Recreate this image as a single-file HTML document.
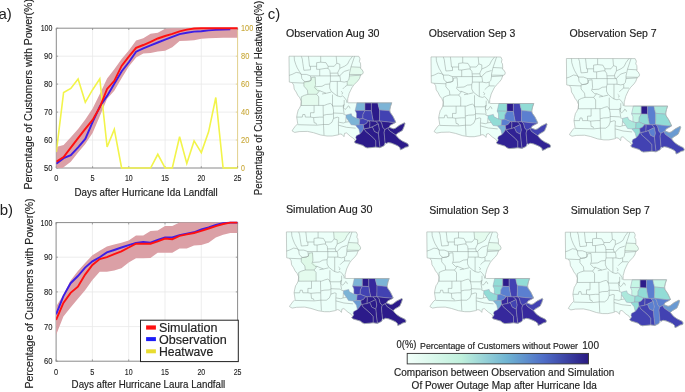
<!DOCTYPE html>
<html><head><meta charset="utf-8"><style>
html,body{margin:0;padding:0;background:#fff;overflow:hidden;}
svg{display:block;}
text{font-family:'Liberation Sans', 'DejaVu Sans', sans-serif;}
</style></head><body>
<svg width="685" height="392" viewBox="0 0 685 392">
<rect width="685" height="392" fill="#fff"/>
<defs>
<clipPath id="ca"><rect x="56.3" y="25.7" width="181.3" height="142.3"/></clipPath>
<clipPath id="ca2"><rect x="56.3" y="25.7" width="182.8" height="144.3"/></clipPath>
<clipPath id="cb"><rect x="56.1" y="220.1" width="181.5" height="141.1"/></clipPath>
</defs>
<line x1="92.6" y1="28.2" x2="92.6" y2="168.0" stroke="#e8e8e8" stroke-width="0.8"/>
<line x1="128.8" y1="28.2" x2="128.8" y2="168.0" stroke="#e8e8e8" stroke-width="0.8"/>
<line x1="165.1" y1="28.2" x2="165.1" y2="168.0" stroke="#e8e8e8" stroke-width="0.8"/>
<line x1="201.3" y1="28.2" x2="201.3" y2="168.0" stroke="#e8e8e8" stroke-width="0.8"/>
<line x1="56.3" y1="140.0" x2="237.6" y2="140.0" stroke="#e8e8e8" stroke-width="0.8"/>
<line x1="56.3" y1="112.1" x2="237.6" y2="112.1" stroke="#e8e8e8" stroke-width="0.8"/>
<line x1="56.3" y1="84.1" x2="237.6" y2="84.1" stroke="#e8e8e8" stroke-width="0.8"/>
<line x1="56.3" y1="56.2" x2="237.6" y2="56.2" stroke="#e8e8e8" stroke-width="0.8"/>
<path d="M56.3,168.0 V28.2 H237.6" fill="none" stroke="#8a8a8a" stroke-width="1"/>
<line x1="56.3" y1="168.0" x2="237.6" y2="168.0" stroke="#8a8a8a" stroke-width="1"/>
<line x1="237.6" y1="28.2" x2="237.6" y2="168.0" stroke="#e2d08c" stroke-width="1"/>
<line x1="56.3" y1="168.0" x2="58.099999999999994" y2="168.0" stroke="#8a8a8a" stroke-width="0.8"/>
<text x="52.5" y="171.1" font-size="9.6" fill="#222" text-anchor="end" textLength="8.5" lengthAdjust="spacingAndGlyphs" stroke="#222" stroke-width="0.12">50</text>
<line x1="56.3" y1="140.0" x2="58.099999999999994" y2="140.0" stroke="#8a8a8a" stroke-width="0.8"/>
<text x="52.5" y="143.1" font-size="9.6" fill="#222" text-anchor="end" textLength="8.5" lengthAdjust="spacingAndGlyphs" stroke="#222" stroke-width="0.12">60</text>
<line x1="56.3" y1="112.1" x2="58.099999999999994" y2="112.1" stroke="#8a8a8a" stroke-width="0.8"/>
<text x="52.5" y="115.2" font-size="9.6" fill="#222" text-anchor="end" textLength="8.5" lengthAdjust="spacingAndGlyphs" stroke="#222" stroke-width="0.12">70</text>
<line x1="56.3" y1="84.1" x2="58.099999999999994" y2="84.1" stroke="#8a8a8a" stroke-width="0.8"/>
<text x="52.5" y="87.2" font-size="9.6" fill="#222" text-anchor="end" textLength="8.5" lengthAdjust="spacingAndGlyphs" stroke="#222" stroke-width="0.12">80</text>
<line x1="56.3" y1="56.2" x2="58.099999999999994" y2="56.2" stroke="#8a8a8a" stroke-width="0.8"/>
<text x="52.5" y="59.3" font-size="9.6" fill="#222" text-anchor="end" textLength="8.5" lengthAdjust="spacingAndGlyphs" stroke="#222" stroke-width="0.12">90</text>
<line x1="56.3" y1="28.2" x2="58.099999999999994" y2="28.2" stroke="#8a8a8a" stroke-width="0.8"/>
<text x="52.5" y="31.3" font-size="9.6" fill="#222" text-anchor="end" textLength="11.8" lengthAdjust="spacingAndGlyphs" stroke="#222" stroke-width="0.12">100</text>
<line x1="235.79999999999998" y1="168.0" x2="237.6" y2="168.0" stroke="#e2d08c" stroke-width="0.8"/>
<text x="241.0" y="171.1" font-size="9.6" fill="#c9a93a" text-anchor="start" textLength="3.9" lengthAdjust="spacingAndGlyphs" stroke="#c9a93a" stroke-width="0.12">0</text>
<line x1="235.79999999999998" y1="140.0" x2="237.6" y2="140.0" stroke="#e2d08c" stroke-width="0.8"/>
<text x="241.0" y="143.1" font-size="9.6" fill="#c9a93a" text-anchor="start" textLength="8.3" lengthAdjust="spacingAndGlyphs" stroke="#c9a93a" stroke-width="0.12">20</text>
<line x1="235.79999999999998" y1="112.1" x2="237.6" y2="112.1" stroke="#e2d08c" stroke-width="0.8"/>
<text x="241.0" y="115.2" font-size="9.6" fill="#c9a93a" text-anchor="start" textLength="8.3" lengthAdjust="spacingAndGlyphs" stroke="#c9a93a" stroke-width="0.12">40</text>
<line x1="235.79999999999998" y1="84.1" x2="237.6" y2="84.1" stroke="#e2d08c" stroke-width="0.8"/>
<text x="241.0" y="87.2" font-size="9.6" fill="#c9a93a" text-anchor="start" textLength="8.3" lengthAdjust="spacingAndGlyphs" stroke="#c9a93a" stroke-width="0.12">60</text>
<line x1="235.79999999999998" y1="56.2" x2="237.6" y2="56.2" stroke="#e2d08c" stroke-width="0.8"/>
<text x="241.0" y="59.3" font-size="9.6" fill="#c9a93a" text-anchor="start" textLength="8.3" lengthAdjust="spacingAndGlyphs" stroke="#c9a93a" stroke-width="0.12">80</text>
<line x1="235.79999999999998" y1="28.2" x2="237.6" y2="28.2" stroke="#e2d08c" stroke-width="0.8"/>
<text x="241.0" y="31.3" font-size="9.6" fill="#c9a93a" text-anchor="start" textLength="12.2" lengthAdjust="spacingAndGlyphs" stroke="#c9a93a" stroke-width="0.12">100</text>
<line x1="56.3" y1="168.0" x2="56.3" y2="166.2" stroke="#8a8a8a" stroke-width="0.8"/>
<line x1="56.3" y1="28.2" x2="56.3" y2="30.0" stroke="#8a8a8a" stroke-width="0.8"/>
<text x="56.3" y="181.2" font-size="9.3" fill="#222" text-anchor="middle" textLength="4.1" lengthAdjust="spacingAndGlyphs" stroke="#222" stroke-width="0.12">0</text>
<line x1="92.6" y1="168.0" x2="92.6" y2="166.2" stroke="#8a8a8a" stroke-width="0.8"/>
<line x1="92.6" y1="28.2" x2="92.6" y2="30.0" stroke="#8a8a8a" stroke-width="0.8"/>
<text x="92.6" y="181.2" font-size="9.3" fill="#222" text-anchor="middle" textLength="4.1" lengthAdjust="spacingAndGlyphs" stroke="#222" stroke-width="0.12">5</text>
<line x1="128.8" y1="168.0" x2="128.8" y2="166.2" stroke="#8a8a8a" stroke-width="0.8"/>
<line x1="128.8" y1="28.2" x2="128.8" y2="30.0" stroke="#8a8a8a" stroke-width="0.8"/>
<text x="128.8" y="181.2" font-size="9.3" fill="#222" text-anchor="middle" textLength="7.8" lengthAdjust="spacingAndGlyphs" stroke="#222" stroke-width="0.12">10</text>
<line x1="165.1" y1="168.0" x2="165.1" y2="166.2" stroke="#8a8a8a" stroke-width="0.8"/>
<line x1="165.1" y1="28.2" x2="165.1" y2="30.0" stroke="#8a8a8a" stroke-width="0.8"/>
<text x="165.1" y="181.2" font-size="9.3" fill="#222" text-anchor="middle" textLength="7.8" lengthAdjust="spacingAndGlyphs" stroke="#222" stroke-width="0.12">15</text>
<line x1="201.3" y1="168.0" x2="201.3" y2="166.2" stroke="#8a8a8a" stroke-width="0.8"/>
<line x1="201.3" y1="28.2" x2="201.3" y2="30.0" stroke="#8a8a8a" stroke-width="0.8"/>
<text x="201.3" y="181.2" font-size="9.3" fill="#222" text-anchor="middle" textLength="7.8" lengthAdjust="spacingAndGlyphs" stroke="#222" stroke-width="0.12">20</text>
<line x1="237.6" y1="168.0" x2="237.6" y2="166.2" stroke="#8a8a8a" stroke-width="0.8"/>
<line x1="237.6" y1="28.2" x2="237.6" y2="30.0" stroke="#8a8a8a" stroke-width="0.8"/>
<text x="237.6" y="181.2" font-size="9.3" fill="#222" text-anchor="middle" textLength="7.8" lengthAdjust="spacingAndGlyphs" stroke="#222" stroke-width="0.12">25</text>
<g clip-path="url(#ca)">
<polygon points="56.3,147.0 63.6,145.1 70.8,137.2 78.1,128.9 85.3,119.6 92.6,108.4 99.8,93.9 107.1,78.5 114.3,69.3 121.6,59.0 128.8,50.6 136.1,40.5 143.3,38.3 150.6,33.8 157.8,32.7 165.1,28.8 172.3,28.2 179.6,28.2 186.8,28.2 194.1,28.2 201.3,28.2 208.6,28.2 215.8,28.2 223.1,28.2 230.3,28.2 237.6,28.2 237.6,37.7 230.3,37.7 223.1,37.7 215.8,38.0 208.6,38.3 201.3,38.8 194.1,40.2 186.8,40.8 179.6,41.1 172.3,47.2 165.1,50.8 157.8,51.4 150.6,53.1 143.3,53.6 136.1,57.6 128.8,66.5 121.6,78.2 114.3,90.8 107.1,98.7 99.8,116.3 92.6,133.1 85.3,144.0 78.1,152.6 70.8,161.8 63.6,167.2 56.3,173.6" fill="#dba0a6"/>
</g>
<g clip-path="url(#ca2)">
<polyline points="56.3,152.1 63.6,92.5 70.8,88.5 78.1,78.9 85.3,102.3 92.6,89.7 99.8,78.8 107.1,147.0 114.3,129.4 121.6,168.0 128.8,168.0 136.1,168.0 143.3,168.0 150.6,168.0 157.8,154.3 165.1,168.0 172.3,168.0 179.6,136.8 186.8,163.4 194.1,140.9 201.3,152.6 208.6,131.8 215.8,97.5 223.1,168.0 230.3,168.0 237.6,168.0" fill="none" stroke="#f2f44a" stroke-width="1.6" stroke-linejoin="miter"/>
<polyline points="56.3,163.8 63.6,158.2 70.8,155.1 78.1,147.3 85.3,138.9 92.6,122.1 99.8,106.5 107.1,95.9 114.3,83.8 121.6,71.5 128.8,62.3 136.1,51.7 143.3,48.3 150.6,45.3 157.8,42.5 165.1,39.7 172.3,36.9 179.6,34.1 186.8,32.7 194.1,31.6 201.3,31.3 208.6,30.4 215.8,29.9 223.1,29.6 230.3,29.3" fill="none" stroke="#3c1ee6" stroke-width="1.9"/>
<polyline points="56.3,161.6 63.6,157.1 70.8,147.6 78.1,138.1 85.3,128.9 92.6,119.9 99.8,107.3 107.1,88.9 114.3,80.8 121.6,65.9 128.8,56.7 136.1,47.8 143.3,45.0 150.6,41.9 157.8,38.5 165.1,36.0 172.3,33.8 179.6,31.3 186.8,29.6 194.1,28.5 201.3,28.2 208.6,28.2 215.8,28.2 223.1,28.2 230.3,28.2 237.6,28.2" fill="none" stroke="#ff1010" stroke-width="1.9"/>
</g>
<line x1="92.4" y1="222.6" x2="92.4" y2="361.2" stroke="#e8e8e8" stroke-width="0.8"/>
<line x1="128.7" y1="222.6" x2="128.7" y2="361.2" stroke="#e8e8e8" stroke-width="0.8"/>
<line x1="165.0" y1="222.6" x2="165.0" y2="361.2" stroke="#e8e8e8" stroke-width="0.8"/>
<line x1="201.3" y1="222.6" x2="201.3" y2="361.2" stroke="#e8e8e8" stroke-width="0.8"/>
<line x1="56.1" y1="326.6" x2="237.6" y2="326.6" stroke="#e8e8e8" stroke-width="0.8"/>
<line x1="56.1" y1="291.9" x2="237.6" y2="291.9" stroke="#e8e8e8" stroke-width="0.8"/>
<line x1="56.1" y1="257.2" x2="237.6" y2="257.2" stroke="#e8e8e8" stroke-width="0.8"/>
<rect x="56.1" y="222.6" width="181.5" height="138.6" fill="none" stroke="#8a8a8a" stroke-width="1"/>
<line x1="56.1" y1="361.2" x2="57.9" y2="361.2" stroke="#8a8a8a" stroke-width="0.8"/>
<line x1="235.79999999999998" y1="361.2" x2="237.6" y2="361.2" stroke="#8a8a8a" stroke-width="0.8"/>
<text x="52.4" y="364.3" font-size="9.6" fill="#222" text-anchor="end" textLength="8.5" lengthAdjust="spacingAndGlyphs" stroke="#222" stroke-width="0.12">60</text>
<line x1="56.1" y1="326.6" x2="57.9" y2="326.6" stroke="#8a8a8a" stroke-width="0.8"/>
<line x1="235.79999999999998" y1="326.6" x2="237.6" y2="326.6" stroke="#8a8a8a" stroke-width="0.8"/>
<text x="52.4" y="329.7" font-size="9.6" fill="#222" text-anchor="end" textLength="8.5" lengthAdjust="spacingAndGlyphs" stroke="#222" stroke-width="0.12">70</text>
<line x1="56.1" y1="291.9" x2="57.9" y2="291.9" stroke="#8a8a8a" stroke-width="0.8"/>
<line x1="235.79999999999998" y1="291.9" x2="237.6" y2="291.9" stroke="#8a8a8a" stroke-width="0.8"/>
<text x="52.4" y="295.0" font-size="9.6" fill="#222" text-anchor="end" textLength="8.5" lengthAdjust="spacingAndGlyphs" stroke="#222" stroke-width="0.12">80</text>
<line x1="56.1" y1="257.2" x2="57.9" y2="257.2" stroke="#8a8a8a" stroke-width="0.8"/>
<line x1="235.79999999999998" y1="257.2" x2="237.6" y2="257.2" stroke="#8a8a8a" stroke-width="0.8"/>
<text x="52.4" y="260.4" font-size="9.6" fill="#222" text-anchor="end" textLength="8.5" lengthAdjust="spacingAndGlyphs" stroke="#222" stroke-width="0.12">90</text>
<line x1="56.1" y1="222.6" x2="57.9" y2="222.6" stroke="#8a8a8a" stroke-width="0.8"/>
<line x1="235.79999999999998" y1="222.6" x2="237.6" y2="222.6" stroke="#8a8a8a" stroke-width="0.8"/>
<text x="52.4" y="225.7" font-size="9.6" fill="#222" text-anchor="end" textLength="11.8" lengthAdjust="spacingAndGlyphs" stroke="#222" stroke-width="0.12">100</text>
<line x1="56.1" y1="361.2" x2="56.1" y2="359.4" stroke="#8a8a8a" stroke-width="0.8"/>
<line x1="56.1" y1="222.6" x2="56.1" y2="224.4" stroke="#8a8a8a" stroke-width="0.8"/>
<text x="56.1" y="375.3" font-size="9.3" fill="#222" text-anchor="middle" textLength="4.1" lengthAdjust="spacingAndGlyphs" stroke="#222" stroke-width="0.12">0</text>
<line x1="92.4" y1="361.2" x2="92.4" y2="359.4" stroke="#8a8a8a" stroke-width="0.8"/>
<line x1="92.4" y1="222.6" x2="92.4" y2="224.4" stroke="#8a8a8a" stroke-width="0.8"/>
<text x="92.4" y="375.3" font-size="9.3" fill="#222" text-anchor="middle" textLength="4.1" lengthAdjust="spacingAndGlyphs" stroke="#222" stroke-width="0.12">5</text>
<line x1="128.7" y1="361.2" x2="128.7" y2="359.4" stroke="#8a8a8a" stroke-width="0.8"/>
<line x1="128.7" y1="222.6" x2="128.7" y2="224.4" stroke="#8a8a8a" stroke-width="0.8"/>
<text x="128.7" y="375.3" font-size="9.3" fill="#222" text-anchor="middle" textLength="7.8" lengthAdjust="spacingAndGlyphs" stroke="#222" stroke-width="0.12">10</text>
<line x1="165.0" y1="361.2" x2="165.0" y2="359.4" stroke="#8a8a8a" stroke-width="0.8"/>
<line x1="165.0" y1="222.6" x2="165.0" y2="224.4" stroke="#8a8a8a" stroke-width="0.8"/>
<text x="165.0" y="375.3" font-size="9.3" fill="#222" text-anchor="middle" textLength="7.8" lengthAdjust="spacingAndGlyphs" stroke="#222" stroke-width="0.12">15</text>
<line x1="201.3" y1="361.2" x2="201.3" y2="359.4" stroke="#8a8a8a" stroke-width="0.8"/>
<line x1="201.3" y1="222.6" x2="201.3" y2="224.4" stroke="#8a8a8a" stroke-width="0.8"/>
<text x="201.3" y="375.3" font-size="9.3" fill="#222" text-anchor="middle" textLength="7.8" lengthAdjust="spacingAndGlyphs" stroke="#222" stroke-width="0.12">20</text>
<line x1="237.6" y1="361.2" x2="237.6" y2="359.4" stroke="#8a8a8a" stroke-width="0.8"/>
<line x1="237.6" y1="222.6" x2="237.6" y2="224.4" stroke="#8a8a8a" stroke-width="0.8"/>
<text x="237.6" y="375.3" font-size="9.3" fill="#222" text-anchor="middle" textLength="7.8" lengthAdjust="spacingAndGlyphs" stroke="#222" stroke-width="0.12">25</text>
<g clip-path="url(#cb)">
<polygon points="56.1,306.5 63.4,294.7 70.6,280.5 77.9,271.1 85.1,263.1 92.4,255.2 99.7,250.7 106.9,246.5 114.2,244.4 121.4,242.7 128.7,240.6 136.0,235.4 143.2,235.4 150.5,230.9 157.7,230.6 165.0,226.1 172.3,226.1 179.5,222.6 186.8,222.6 194.0,222.6 201.3,222.6 208.6,222.6 215.8,222.6 223.1,222.6 230.3,222.6 237.6,222.6 237.6,233.0 230.3,233.0 223.1,234.7 215.8,237.5 208.6,242.7 201.3,245.1 194.0,245.5 186.8,248.6 179.5,248.6 172.3,252.7 165.0,252.7 157.7,252.7 150.5,257.9 143.2,258.3 136.0,258.3 128.7,262.4 121.4,268.3 114.2,270.4 106.9,271.8 99.7,271.8 92.4,280.1 85.1,290.2 77.9,298.8 70.6,307.5 63.4,316.5 56.1,334.9" fill="#dba0a6"/>
<polyline points="56.1,314.4 63.4,296.1 70.6,283.2 77.9,276.0 85.1,267.6 92.4,261.4 99.7,257.2 106.9,252.4 114.2,250.0 121.4,247.5 128.7,245.1 136.0,243.0 143.2,242.0 150.5,242.7 157.7,239.9 165.0,237.5 172.3,237.5 179.5,235.1 186.8,233.7 194.0,232.3 201.3,229.5 208.6,227.5 215.8,225.0 223.1,223.3 230.3,222.6 237.6,222.6" fill="none" stroke="#3c1ee6" stroke-width="1.9"/>
<polyline points="56.1,320.0 63.4,303.0 70.6,292.9 77.9,286.7 85.1,274.6 92.4,264.9 99.7,259.0 106.9,257.2 114.2,254.1 121.4,251.4 128.7,247.5 136.0,243.7 143.2,243.7 150.5,243.7 157.7,241.3 165.0,238.5 172.3,239.2 179.5,235.8 186.8,234.4 194.0,233.0 201.3,230.9 208.6,228.5 215.8,226.1 223.1,224.0 230.3,222.6 237.6,222.6" fill="none" stroke="#ff1010" stroke-width="1.9"/>
</g>
<rect x="140.5" y="320.2" width="97.8" height="41.4" fill="#fff" stroke="#222" stroke-width="1"/>
<rect x="146.1" y="325.4" width="9.8" height="4.2" fill="#ff1010"/>
<rect x="146.1" y="337.1" width="9.8" height="4.0" fill="#1c1cf8"/>
<rect x="146.1" y="349.3" width="9.8" height="4.0" fill="#e8dc30"/>
<text x="158.9" y="332.1" font-size="12.3" fill="#222" text-anchor="start" textLength="58.7" lengthAdjust="spacingAndGlyphs" stroke="#222" stroke-width="0.16">Simulation</text>
<text x="158.9" y="344.1" font-size="12.3" fill="#222" text-anchor="start" textLength="67.8" lengthAdjust="spacingAndGlyphs" stroke="#222" stroke-width="0.16">Observation</text>
<text x="158.9" y="356.3" font-size="12.3" fill="#222" text-anchor="start" textLength="54.3" lengthAdjust="spacingAndGlyphs" stroke="#222" stroke-width="0.16">Heatwave</text>
<text x="74.5" y="196.3" font-size="10.2" fill="#222" text-anchor="start" textLength="143.2" lengthAdjust="spacingAndGlyphs" stroke="#222" stroke-width="0.16">Days after Hurricane Ida Landfall</text>
<text x="71.6" y="387.7" font-size="10.2" fill="#222" text-anchor="start" textLength="153.7" lengthAdjust="spacingAndGlyphs" stroke="#222" stroke-width="0.16">Days after Hurricane Laura Landfall</text>
<text transform="translate(32.4,189.6) rotate(-90)" font-size="10.2" fill="#222" textLength="190.6" lengthAdjust="spacingAndGlyphs" stroke="#222" stroke-width="0.15">Percentage of Customers with Power(%)</text>
<text transform="translate(32.7,388.6) rotate(-90)" font-size="10.2" fill="#222" textLength="190.2" lengthAdjust="spacingAndGlyphs" stroke="#222" stroke-width="0.15">Percentage of Customers with Power(%)</text>
<text transform="translate(262.3,195.2) rotate(-90)" font-size="10.2" fill="#222" textLength="194.4" lengthAdjust="spacingAndGlyphs" stroke="#222" stroke-width="0.15">Percentage of Customer under Heatwave(%)</text>
<text x="-1.5" y="18.6" font-size="15" fill="#222" text-anchor="start">a)</text>
<text x="-0.3" y="215.3" font-size="15" fill="#222" text-anchor="start">b)</text>
<text x="267.8" y="18.6" font-size="15" fill="#222" text-anchor="start">c)</text>
<text x="285.9" y="36.9" font-size="10.9" fill="#222" text-anchor="start" textLength="93.6" lengthAdjust="spacingAndGlyphs" stroke="#222" stroke-width="0.16">Observation Aug 30</text>
<text x="428.8" y="36.9" font-size="10.9" fill="#222" text-anchor="start" textLength="86.6" lengthAdjust="spacingAndGlyphs" stroke="#222" stroke-width="0.16">Observation Sep 3</text>
<text x="569.6" y="36.9" font-size="10.9" fill="#222" text-anchor="start" textLength="87.1" lengthAdjust="spacingAndGlyphs" stroke="#222" stroke-width="0.16">Observation Sep 7</text>
<text x="285.9" y="212.6" font-size="10.9" fill="#222" text-anchor="start" textLength="86.7" lengthAdjust="spacingAndGlyphs" stroke="#222" stroke-width="0.16">Simulation Aug 30</text>
<text x="429.2" y="213.8" font-size="10.9" fill="#222" text-anchor="start" textLength="79.5" lengthAdjust="spacingAndGlyphs" stroke="#222" stroke-width="0.16">Simulation Sep 3</text>
<text x="570.8" y="213.8" font-size="10.9" fill="#222" text-anchor="start" textLength="79.0" lengthAdjust="spacingAndGlyphs" stroke="#222" stroke-width="0.16">Simulation Sep 7</text>
<defs><linearGradient id="cbg" x1="0" x2="1" y1="0" y2="0"><stop offset="0" stop-color="#f2fffa"/><stop offset="0.3" stop-color="#bff0dc"/><stop offset="0.55" stop-color="#6fb4d2"/><stop offset="0.75" stop-color="#4f6ec8"/><stop offset="1" stop-color="#2a1a82"/></linearGradient></defs>
<rect x="407.2" y="353.4" width="181.3" height="10.5" fill="url(#cbg)" stroke="#333" stroke-width="0.9"/>
<text x="396.6" y="348.3" font-size="11.5" fill="#222" text-anchor="start" textLength="19.8" lengthAdjust="spacingAndGlyphs" stroke="#222" stroke-width="0.16">0(%)</text>
<text x="420.0" y="349.0" font-size="9.6" fill="#222" text-anchor="start" textLength="158.0" lengthAdjust="spacingAndGlyphs" stroke="#222" stroke-width="0.16">Percentage of Customers without Power</text>
<text x="582.3" y="349.4" font-size="11.5" fill="#222" text-anchor="start" textLength="16.7" lengthAdjust="spacingAndGlyphs" stroke="#222" stroke-width="0.16">100</text>
<text x="394.0" y="376.2" font-size="10.2" fill="#222" text-anchor="start" textLength="220.3" lengthAdjust="spacingAndGlyphs" stroke="#222" stroke-width="0.16">Comparison between Observation and Simulation</text>
<text x="411.6" y="389.3" font-size="10.2" fill="#222" text-anchor="start" textLength="185.2" lengthAdjust="spacingAndGlyphs" stroke="#222" stroke-width="0.16">Of Power Outage Map after Hurricane Ida</text>
<defs>
<polygon id="lao" points="0,0 69.8,0.1 71,2.6 70.4,5.3 71.5,7 71.7,10.5 71.5,12.3 73,13.3 74.3,15.9 73.8,17.6 72.2,18.4 71.2,20.2 70.5,22.3 68.6,24.9 65.2,28.3 63.2,31 61.7,34 60.2,37.1 59.4,40.2 58.7,42.5 58.7,46.3 59.4,46.6 102.8,46.6 101.6,50 100.9,53.3 101.3,56.3 104,60.2 105.9,64 106.8,66 105.3,67 101.2,69.1 100.2,71.1 104.3,72.6 106.3,72.1 110.4,69.1 115.5,66.5 116,67.5 115,70.6 113.4,74.2 110.9,75.7 108.3,77.2 106.8,78.8 108.3,80.8 110.4,82.8 113.4,84.9 116.5,86.4 118.6,87.4 119.6,89 119.1,90.5 116.5,91 114,92.5 111.4,93.6 110.9,91.5 109.4,90 106.3,88.5 102.2,86.9 99.2,86.4 97.1,87.4 95.1,89.5 92,91 91,91.5 86.7,90.9 83.1,91.3 78.1,91.7 76,90.9 73.9,89.2 70.3,88.1 66.7,87 65.3,85.9 66.2,84.4 64.7,82.3 61.6,80.3 59,78 57.5,76.7 55.5,77.2 55,80.5 53,78.2 51,77.7 49,78.7 43.2,79.8 38,79.8 31.7,78.8 24.5,76.5 18.4,75.2 10.2,75.4 5.7,76.2 3.1,74.7 3.6,73.7 6.2,70.1 8.7,67.6 8.2,64 7.7,60.9 8.2,57.9 9.2,53.8 10.3,52.3 11.8,49.2 12.3,45.1 10.8,41.6 8.7,39 7.2,35.9 5.2,32.9 4.7,28.8 3.1,26.4 0.3,25.9"/>
<g id="lal" fill="none" stroke="#8e9b96" stroke-width="0.5" stroke-linejoin="round">
<polyline points="5.2,0 5.4,3.9 6.7,8 8.2,11.6 10.3,15.2 12.3,18.2"/>
<polyline points="12.3,0 13.3,2.9 13.8,7 14.3,10.1 14.9,14.1"/>
<polyline points="19.4,0 20,5 20.5,10.1 27.6,10.1"/>
<polyline points="14.9,14.1 21.5,13.6 21.5,10.1"/>
<polyline points="31.7,0 31.7,6"/>
<polyline points="27.6,6.5 31.7,6 37,6.5 39.1,10.1"/>
<polyline points="27.6,6.5 27.6,13.1 30.7,13.1 37,12.1 39.1,12.1 39.1,10.1"/>
<polyline points="30.7,13.1 30.7,19.7"/>
<polyline points="0,19.2 3.1,18.2 7.2,16.2 10.3,16.7 12.3,18.2"/>
<polyline points="12.3,18.2 17.4,18.2 21.5,19.7 50.3,19.7"/>
<polyline points="39.1,12.1 40.9,14.5 41.4,19.7"/>
<polyline points="41.2,17 48.8,16.9"/>
<polyline points="12.3,18.2 12.8,22.3 14.8,24.8 16.4,25.6 19.9,25.4 22,23.8 21.5,19.7"/>
<polyline points="14.9,25.9 22,24.4 22.5,21.3 26.1,20.8 26.6,28.4 25.6,31.5 28.6,34.5 30.7,34.5"/>
<polyline points="14.9,25.9 14.9,29.9 18.4,34 18.9,38.1 27.6,38.1 30.7,34.5 37,37.1"/>
<polyline points="3.1,26.4 14.9,26.9"/>
<polyline points="26.3,30.5 33,30.1 36.4,28.2 40.7,27.8"/>
<polyline points="12.3,40.6 15.4,39.1 18.9,38.1"/>
<polyline points="12.3,40.6 12.3,49.3"/>
<polyline points="27.6,38.1 29.7,40.6 29.7,49.3"/>
<polyline points="11.8,49.3 33,49.2 35.3,49.2 38.4,48 41.4,47.2 43,48.4 43.7,49.9"/>
<polyline points="25.1,49.3 25.1,56.5 21.5,56.5 21.5,60.9"/>
<polyline points="7.7,60.9 13.3,60.9 13.8,58.3 15.9,58.3 16.4,60.9 21.5,60.9 24.6,61.4 30.7,60.9 34.3,60.9"/>
<polyline points="24.6,61.4 25.1,66.5 27.1,67 27.6,68.5"/>
<polyline points="34.1,49.2 34.5,69 35,78.8"/>
<polyline points="8.6,68.5 27.6,69 34.5,68.3 39.9,68.3 43,66 44.5,62.2 44.5,56.8"/>
<polyline points="47.2,0 47.8,7"/>
<polyline points="39.1,10.1 45.2,10.1 47.8,7 50.8,8 50.8,12.1 48.8,16.2 49.3,19.2 50.8,19.7"/>
<polyline points="63.6,0 60.5,4 58.5,8 55.4,10.1 50.8,12.1"/>
<polyline points="65.6,0 63.6,6 62,10.6 60.5,17.2 60.5,19.7"/>
<polyline points="62,10.6 71.6,11.1"/>
<polyline points="60.5,13.6 55.4,15.2 52.9,17.2 50.8,19.7"/>
<polyline points="60.5,18.2 72.2,18.4"/>
<polyline points="60.5,19.7 72,19"/>
<polyline points="41.4,19.7 41.4,25.2 51.4,25.2 51.4,22.9 50.8,19.7"/>
<polyline points="51.4,25.2 55.2,25.9 58.2,25.2 59.8,23.6 60.5,19.7"/>
<polyline points="58.2,25.2 58.2,29 63.6,29"/>
<polyline points="41.4,25.2 40.7,27.8 40.7,32 42.2,35.1 46,38.2 48.3,39.7 51.4,40.5 53.7,39.7 56,42 57.6,44.5"/>
<polyline points="48.3,25.2 48.3,39.7"/>
<polyline points="33,37.8 37.6,37 42.2,35.9"/>
<polyline points="53.7,32.8 56,30.5 58.2,29"/>
<polyline points="52.1,35.1 53.7,36.6 52.9,38.2"/>
<polyline points="43.5,38.4 43.5,49.9"/>
<polyline points="43.7,49.9 53.7,49.9 55.2,48.4 55.2,43.8"/>
<polyline points="43.7,49.9 44.5,53.7 44.5,56.8 43.3,58 37.6,58.3 34.3,59.1"/>
<polyline points="44.5,56.8 53.7,57.2 55.2,58.3 57,58.8"/>
<polyline points="54.4,48.4 54.4,53 55.2,57.6"/>
<polyline points="44.5,62.2 48.3,61 49.8,61.4 49.4,66 49.6,78.2"/>
<polyline points="49.6,66 54.4,66.8 56.7,66 60.1,65.5"/>
<polyline points="49.5,69 57.5,71.1 66.7,72"/>
<polyline points="55.2,48.4 54.4,51.5 56,53.3 58.2,51.5 59.2,49.6 60.5,50.5 61,52.2"/>
<polyline points="57.6,44.5 57.8,46.6"/>
<polyline points="57,61.4 56.7,66"/>
</g>
</defs>
<g transform="translate(289.0,56.2) scale(1,1)">
<use href="#lao" fill="#ecfff9"/>
<polygon points="14.9,25.9 22,24.4 22.5,21.3 26.6,20.8 26.6,30.5 29.7,33 30.7,34.5 27.6,38.1 18.9,38.1 18.4,34 14.9,29.9" fill="#def9e8"/>
<polygon points="12.3,40.6 15.4,39.1 18.9,38.1 27.6,38.1 29.7,40.6 29.7,49.1 12.3,49.3" fill="#e4fbee"/>
<polygon points="60.5,19.7 72,19 71.2,20.2 70.5,22.3 68.6,24.9 65.2,28.3 63.6,29 58.2,29 58.2,25.2 59.8,23.6" fill="#def9e8"/>
<polygon points="62,10.6 71.6,11.1 71.5,12.3 73,13.3 74.3,15.9 73.8,17.6 72.2,18.4 60.5,18.2 60.5,17.2" fill="#e4fbee"/>
<use href="#lal"/>
<polygon points="67.9,46.6 76,46.6 76,54.4 66.2,54.2" fill="#7cb4d6" stroke="#9a9ab0" stroke-width="0.45" stroke-linejoin="round"/>
<polygon points="76,46.6 82.4,46.6 82.4,54.6 76,54.4" fill="#2c1b8a" stroke="#9a9ab0" stroke-width="0.45" stroke-linejoin="round"/>
<polygon points="82.4,46.6 88.9,46.6 89.6,50 90.6,53.7 90.6,60 90.4,64.8 86.6,65 84.3,65 83.2,60 82.4,54.6" fill="#2c1b8a" stroke="#9a9ab0" stroke-width="0.45" stroke-linejoin="round"/>
<polygon points="88.9,46.6 102.8,46.6 101.6,50 100.9,53.3 100.5,54.6 90.6,53.7 89.6,50" fill="#7cb4d6" stroke="#9a9ab0" stroke-width="0.45" stroke-linejoin="round"/>
<polygon points="90.6,53.7 100.5,54.6 101.3,56.3 104,60.2 105.9,64 106.8,66 103.2,66.2 99.2,65.8 95.1,65.3 90.4,64.8 90.6,60" fill="#4242b2" stroke="#9a9ab0" stroke-width="0.45" stroke-linejoin="round"/>
<polygon points="66.2,54.2 76,54.4 74,58 73.8,62.4 70.8,62.9 67.5,62.1 67.5,57" fill="#4242b2" stroke="#9a9ab0" stroke-width="0.45" stroke-linejoin="round"/>
<polygon points="76,54.4 82.4,54.6 83.2,60 84.3,65 79.5,64.6 73.8,62.4 74,58" fill="#4242b2" stroke="#9a9ab0" stroke-width="0.45" stroke-linejoin="round"/>
<polygon points="57,58.8 62.3,57.5 63.1,59.9 67.5,62.1 70.8,62.9 70.3,68.6 66.7,69.1 62.1,68.6 60.1,65.5 57,61.4" fill="#7cb4d6" stroke="#9a9ab0" stroke-width="0.45" stroke-linejoin="round"/>
<polygon points="70.8,62.9 73.8,62.4 79.5,64.6 77.1,67.5 74.4,68.6 70.3,68.6" fill="#4242b2" stroke="#9a9ab0" stroke-width="0.45" stroke-linejoin="round"/>
<polygon points="66.7,69.1 70.3,68.6 74.4,68.6 74.9,72.4 73.1,75.2 71,77.7 69.9,73.1 67.4,70.2" fill="#5b7fd0" stroke="#9a9ab0" stroke-width="0.45" stroke-linejoin="round"/>
<polygon points="74.4,68.6 77.1,67.5 79.5,64.6 81,65.5 80.7,71.7 75.1,72.7 74.9,72.4" fill="#2c1b8a" stroke="#9a9ab0" stroke-width="0.45" stroke-linejoin="round"/>
<polygon points="79.5,64.6 84.3,65 86.6,65 89.4,67.6 83.2,70.7 80.7,71.7 81,65.5" fill="#2c1b8a" stroke="#9a9ab0" stroke-width="0.45" stroke-linejoin="round"/>
<polygon points="83.2,70.7 89.4,67.6 90.4,73.2 89.4,77.3 85.3,75.2 84.3,72.7" fill="#2c1b8a" stroke="#9a9ab0" stroke-width="0.45" stroke-linejoin="round"/>
<polygon points="90.4,64.8 95.1,65.3 99.2,65.8 103.2,66.2 106.8,66 105.3,67 101.2,69.1 100.2,71.1 98.7,71.8 95.8,73.5 93.6,71 92.5,66.5" fill="#2c1b8a" stroke="#9a9ab0" stroke-width="0.45" stroke-linejoin="round"/>
<polygon points="86.6,65 90.4,64.8 92.5,66.5 93.6,71 95.8,73.5 95.1,76.2 95.6,81.3 96.1,86.4 95.1,89.5 92,91 91,91.5 90,84 89.4,77.3 90.4,73.2 89.4,67.6" fill="#2c1b8a" stroke="#9a9ab0" stroke-width="0.45" stroke-linejoin="round"/>
<polygon points="100.2,71.1 104.3,72.6 106.3,72.1 110.4,69.1 115.5,66.5 116,67.5 115,70.6 113.4,74.2 110.9,75.7 108.3,77.2 106.8,78.8 104,77 100.5,74.5 98.7,71.8" fill="#2c1b8a" stroke="#9a9ab0" stroke-width="0.45" stroke-linejoin="round"/>
<polygon points="95.8,73.5 98.7,71.8 100.5,74.5 104,77 106.8,78.8 108.3,80.8 110.4,82.8 113.4,84.9 116.5,86.4 118.6,87.4 119.6,89 119.1,90.5 116.5,91 114,92.5 111.4,93.6 110.9,91.5 109.4,90 106.3,88.5 102.2,86.9 99.2,86.4 97.1,87.4 96.1,86.4 95.6,81.3 95.1,76.2" fill="#2c1b8a" stroke="#9a9ab0" stroke-width="0.45" stroke-linejoin="round"/>
<polygon points="80.7,71.7 83.2,70.7 84.3,72.7 85.3,75.2 89.4,77.3 90,84 91,91.5 86.7,90.9 86.7,84.5 84.6,82 81,78.8 76.7,75.2 75.1,72.7" fill="#2c1b8a" stroke="#9a9ab0" stroke-width="0.45" stroke-linejoin="round"/>
<polygon points="73.1,75.2 74.9,72.4 75.1,72.7 76.7,75.2 81,78.8 84.6,82 86.7,84.5 86.7,90.9 83.1,91.3 78.1,91.7 76,90.9 73.9,89.2 70.3,88.1 66.7,87 65.3,85.9 67.4,83.1 66.7,81.3 67.4,79.5 71,77.7" fill="#2c1b8a" stroke="#9a9ab0" stroke-width="0.45" stroke-linejoin="round"/>
<use href="#lao" fill="none" stroke="#a3aca8" stroke-width="0.6" stroke-linejoin="round"/>
</g>
<g transform="translate(431.0,56.9) scale(1,1)">
<use href="#lao" fill="#ecfff9"/>
<use href="#lal"/>
<polygon points="67.9,46.6 76,46.6 76,54.4 66.2,54.2" fill="#92dcd6" stroke="#9a9ab0" stroke-width="0.45" stroke-linejoin="round"/>
<polygon points="76,46.6 82.4,46.6 82.4,54.6 76,54.4" fill="#2c1b8a" stroke="#9a9ab0" stroke-width="0.45" stroke-linejoin="round"/>
<polygon points="82.4,46.6 88.9,46.6 89.6,50 90.6,53.7 90.6,60 90.4,64.8 86.6,65 84.3,65 83.2,60 82.4,54.6" fill="#4242b2" stroke="#9a9ab0" stroke-width="0.45" stroke-linejoin="round"/>
<polygon points="88.9,46.6 102.8,46.6 101.6,50 100.9,53.3 100.5,54.6 90.6,53.7 89.6,50" fill="#92dcd6" stroke="#9a9ab0" stroke-width="0.45" stroke-linejoin="round"/>
<polygon points="90.6,53.7 100.5,54.6 101.3,56.3 104,60.2 105.9,64 106.8,66 103.2,66.2 99.2,65.8 95.1,65.3 90.4,64.8 90.6,60" fill="#5b7fd0" stroke="#9a9ab0" stroke-width="0.45" stroke-linejoin="round"/>
<polygon points="66.2,54.2 76,54.4 74,58 73.8,62.4 70.8,62.9 67.5,62.1 67.5,57" fill="#92dcd6" stroke="#9a9ab0" stroke-width="0.45" stroke-linejoin="round"/>
<polygon points="76,54.4 82.4,54.6 83.2,60 84.3,65 79.5,64.6 73.8,62.4 74,58" fill="#5b7fd0" stroke="#9a9ab0" stroke-width="0.45" stroke-linejoin="round"/>
<polygon points="57,58.8 62.3,57.5 63.1,59.9 67.5,62.1 70.8,62.9 70.3,68.6 66.7,69.1 62.1,68.6 60.1,65.5 57,61.4" fill="#92dcd6" stroke="#9a9ab0" stroke-width="0.45" stroke-linejoin="round"/>
<polygon points="70.8,62.9 73.8,62.4 79.5,64.6 77.1,67.5 74.4,68.6 70.3,68.6" fill="#5b7fd0" stroke="#9a9ab0" stroke-width="0.45" stroke-linejoin="round"/>
<polygon points="66.7,69.1 70.3,68.6 74.4,68.6 74.9,72.4 73.1,75.2 71,77.7 69.9,73.1 67.4,70.2" fill="#7cb4d6" stroke="#9a9ab0" stroke-width="0.45" stroke-linejoin="round"/>
<polygon points="74.4,68.6 77.1,67.5 79.5,64.6 81,65.5 80.7,71.7 75.1,72.7 74.9,72.4" fill="#302294" stroke="#9a9ab0" stroke-width="0.45" stroke-linejoin="round"/>
<polygon points="79.5,64.6 84.3,65 86.6,65 89.4,67.6 83.2,70.7 80.7,71.7 81,65.5" fill="#302294" stroke="#9a9ab0" stroke-width="0.45" stroke-linejoin="round"/>
<polygon points="83.2,70.7 89.4,67.6 90.4,73.2 89.4,77.3 85.3,75.2 84.3,72.7" fill="#4242b2" stroke="#9a9ab0" stroke-width="0.45" stroke-linejoin="round"/>
<polygon points="90.4,64.8 95.1,65.3 99.2,65.8 103.2,66.2 106.8,66 105.3,67 101.2,69.1 100.2,71.1 98.7,71.8 95.8,73.5 93.6,71 92.5,66.5" fill="#4242b2" stroke="#9a9ab0" stroke-width="0.45" stroke-linejoin="round"/>
<polygon points="86.6,65 90.4,64.8 92.5,66.5 93.6,71 95.8,73.5 95.1,76.2 95.6,81.3 96.1,86.4 95.1,89.5 92,91 91,91.5 90,84 89.4,77.3 90.4,73.2 89.4,67.6" fill="#302294" stroke="#9a9ab0" stroke-width="0.45" stroke-linejoin="round"/>
<polygon points="100.2,71.1 104.3,72.6 106.3,72.1 110.4,69.1 115.5,66.5 116,67.5 115,70.6 113.4,74.2 110.9,75.7 108.3,77.2 106.8,78.8 104,77 100.5,74.5 98.7,71.8" fill="#4242b2" stroke="#9a9ab0" stroke-width="0.45" stroke-linejoin="round"/>
<polygon points="95.8,73.5 98.7,71.8 100.5,74.5 104,77 106.8,78.8 108.3,80.8 110.4,82.8 113.4,84.9 116.5,86.4 118.6,87.4 119.6,89 119.1,90.5 116.5,91 114,92.5 111.4,93.6 110.9,91.5 109.4,90 106.3,88.5 102.2,86.9 99.2,86.4 97.1,87.4 96.1,86.4 95.6,81.3 95.1,76.2" fill="#302294" stroke="#9a9ab0" stroke-width="0.45" stroke-linejoin="round"/>
<polygon points="80.7,71.7 83.2,70.7 84.3,72.7 85.3,75.2 89.4,77.3 90,84 91,91.5 86.7,90.9 86.7,84.5 84.6,82 81,78.8 76.7,75.2 75.1,72.7" fill="#302294" stroke="#9a9ab0" stroke-width="0.45" stroke-linejoin="round"/>
<polygon points="73.1,75.2 74.9,72.4 75.1,72.7 76.7,75.2 81,78.8 84.6,82 86.7,84.5 86.7,90.9 83.1,91.3 78.1,91.7 76,90.9 73.9,89.2 70.3,88.1 66.7,87 65.3,85.9 67.4,83.1 66.7,81.3 67.4,79.5 71,77.7" fill="#302294" stroke="#9a9ab0" stroke-width="0.45" stroke-linejoin="round"/>
<use href="#lao" fill="none" stroke="#a3aca8" stroke-width="0.6" stroke-linejoin="round"/>
</g>
<g transform="translate(566.4,58.5) scale(0.985,1.02)">
<use href="#lao" fill="#ecfff9"/>
<use href="#lal"/>
<polygon points="67.9,46.6 76,46.6 76,54.4 66.2,54.2" fill="#c6f6e6" stroke="#9a9ab0" stroke-width="0.45" stroke-linejoin="round"/>
<polygon points="76,46.6 82.4,46.6 82.4,54.6 76,54.4" fill="#2c1b8a" stroke="#9a9ab0" stroke-width="0.45" stroke-linejoin="round"/>
<polygon points="82.4,46.6 88.9,46.6 89.6,50 90.6,53.7 90.6,60 90.4,64.8 86.6,65 84.3,65 83.2,60 82.4,54.6" fill="#5b7fd0" stroke="#9a9ab0" stroke-width="0.45" stroke-linejoin="round"/>
<polygon points="88.9,46.6 102.8,46.6 101.6,50 100.9,53.3 100.5,54.6 90.6,53.7 89.6,50" fill="#ace8dc" stroke="#9a9ab0" stroke-width="0.45" stroke-linejoin="round"/>
<polygon points="90.6,53.7 100.5,54.6 101.3,56.3 104,60.2 105.9,64 106.8,66 103.2,66.2 99.2,65.8 95.1,65.3 90.4,64.8 90.6,60" fill="#92dcd6" stroke="#9a9ab0" stroke-width="0.45" stroke-linejoin="round"/>
<polygon points="66.2,54.2 76,54.4 74,58 73.8,62.4 70.8,62.9 67.5,62.1 67.5,57" fill="#c6f6e6" stroke="#9a9ab0" stroke-width="0.45" stroke-linejoin="round"/>
<polygon points="76,54.4 82.4,54.6 83.2,60 84.3,65 79.5,64.6 73.8,62.4 74,58" fill="#92dcd6" stroke="#9a9ab0" stroke-width="0.45" stroke-linejoin="round"/>
<polygon points="57,58.8 62.3,57.5 63.1,59.9 67.5,62.1 70.8,62.9 70.3,68.6 66.7,69.1 62.1,68.6 60.1,65.5 57,61.4" fill="#ace8dc" stroke="#9a9ab0" stroke-width="0.45" stroke-linejoin="round"/>
<polygon points="70.8,62.9 73.8,62.4 79.5,64.6 77.1,67.5 74.4,68.6 70.3,68.6" fill="#92dcd6" stroke="#9a9ab0" stroke-width="0.45" stroke-linejoin="round"/>
<polygon points="66.7,69.1 70.3,68.6 74.4,68.6 74.9,72.4 73.1,75.2 71,77.7 69.9,73.1 67.4,70.2" fill="#92dcd6" stroke="#9a9ab0" stroke-width="0.45" stroke-linejoin="round"/>
<polygon points="74.4,68.6 77.1,67.5 79.5,64.6 81,65.5 80.7,71.7 75.1,72.7 74.9,72.4" fill="#4242b2" stroke="#9a9ab0" stroke-width="0.45" stroke-linejoin="round"/>
<polygon points="79.5,64.6 84.3,65 86.6,65 89.4,67.6 83.2,70.7 80.7,71.7 81,65.5" fill="#4242b2" stroke="#9a9ab0" stroke-width="0.45" stroke-linejoin="round"/>
<polygon points="83.2,70.7 89.4,67.6 90.4,73.2 89.4,77.3 85.3,75.2 84.3,72.7" fill="#5b7fd0" stroke="#9a9ab0" stroke-width="0.45" stroke-linejoin="round"/>
<polygon points="90.4,64.8 95.1,65.3 99.2,65.8 103.2,66.2 106.8,66 105.3,67 101.2,69.1 100.2,71.1 98.7,71.8 95.8,73.5 93.6,71 92.5,66.5" fill="#5b7fd0" stroke="#9a9ab0" stroke-width="0.45" stroke-linejoin="round"/>
<polygon points="86.6,65 90.4,64.8 92.5,66.5 93.6,71 95.8,73.5 95.1,76.2 95.6,81.3 96.1,86.4 95.1,89.5 92,91 91,91.5 90,84 89.4,77.3 90.4,73.2 89.4,67.6" fill="#4242b2" stroke="#9a9ab0" stroke-width="0.45" stroke-linejoin="round"/>
<polygon points="100.2,71.1 104.3,72.6 106.3,72.1 110.4,69.1 115.5,66.5 116,67.5 115,70.6 113.4,74.2 110.9,75.7 108.3,77.2 106.8,78.8 104,77 100.5,74.5 98.7,71.8" fill="#6a9ad2" stroke="#9a9ab0" stroke-width="0.45" stroke-linejoin="round"/>
<polygon points="95.8,73.5 98.7,71.8 100.5,74.5 104,77 106.8,78.8 108.3,80.8 110.4,82.8 113.4,84.9 116.5,86.4 118.6,87.4 119.6,89 119.1,90.5 116.5,91 114,92.5 111.4,93.6 110.9,91.5 109.4,90 106.3,88.5 102.2,86.9 99.2,86.4 97.1,87.4 96.1,86.4 95.6,81.3 95.1,76.2" fill="#4242b2" stroke="#9a9ab0" stroke-width="0.45" stroke-linejoin="round"/>
<polygon points="80.7,71.7 83.2,70.7 84.3,72.7 85.3,75.2 89.4,77.3 90,84 91,91.5 86.7,90.9 86.7,84.5 84.6,82 81,78.8 76.7,75.2 75.1,72.7" fill="#4242b2" stroke="#9a9ab0" stroke-width="0.45" stroke-linejoin="round"/>
<polygon points="73.1,75.2 74.9,72.4 75.1,72.7 76.7,75.2 81,78.8 84.6,82 86.7,84.5 86.7,90.9 83.1,91.3 78.1,91.7 76,90.9 73.9,89.2 70.3,88.1 66.7,87 65.3,85.9 67.4,83.1 66.7,81.3 67.4,79.5 71,77.7" fill="#4242b2" stroke="#9a9ab0" stroke-width="0.45" stroke-linejoin="round"/>
<use href="#lao" fill="none" stroke="#a3aca8" stroke-width="0.6" stroke-linejoin="round"/>
</g>
<g transform="translate(286.4,231.9) scale(1,1)">
<use href="#lao" fill="#ecfff9"/>
<polygon points="14.9,25.9 22,24.4 22.5,21.3 26.6,20.8 26.6,30.5 29.7,33 30.7,34.5 27.6,38.1 18.9,38.1 18.4,34 14.9,29.9" fill="#def9e8"/>
<polygon points="12.3,40.6 15.4,39.1 18.9,38.1 27.6,38.1 29.7,40.6 29.7,49.1 12.3,49.3" fill="#e4fbee"/>
<polygon points="47.2,0 63.6,0 60.5,4 58.5,8 55.4,10.1 50.8,12.1 50.8,8 47.8,7" fill="#e4fbee"/>
<polygon points="62,10.6 71.6,11.1 71.5,12.3 73,13.3 74.3,15.9 73.8,17.6 72.2,18.4 60.5,18.2 60.5,17.2" fill="#e4fbee"/>
<use href="#lal"/>
<polygon points="67.9,46.6 76,46.6 76,54.4 66.2,54.2" fill="#7cb4d6" stroke="#9a9ab0" stroke-width="0.45" stroke-linejoin="round"/>
<polygon points="76,46.6 82.4,46.6 82.4,54.6 76,54.4" fill="#2c1b8a" stroke="#9a9ab0" stroke-width="0.45" stroke-linejoin="round"/>
<polygon points="82.4,46.6 88.9,46.6 89.6,50 90.6,53.7 90.6,60 90.4,64.8 86.6,65 84.3,65 83.2,60 82.4,54.6" fill="#36289c" stroke="#9a9ab0" stroke-width="0.45" stroke-linejoin="round"/>
<polygon points="88.9,46.6 102.8,46.6 101.6,50 100.9,53.3 100.5,54.6 90.6,53.7 89.6,50" fill="#7cb4d6" stroke="#9a9ab0" stroke-width="0.45" stroke-linejoin="round"/>
<polygon points="90.6,53.7 100.5,54.6 101.3,56.3 104,60.2 105.9,64 106.8,66 103.2,66.2 99.2,65.8 95.1,65.3 90.4,64.8 90.6,60" fill="#4242b2" stroke="#9a9ab0" stroke-width="0.45" stroke-linejoin="round"/>
<polygon points="66.2,54.2 76,54.4 74,58 73.8,62.4 70.8,62.9 67.5,62.1 67.5,57" fill="#4242b2" stroke="#9a9ab0" stroke-width="0.45" stroke-linejoin="round"/>
<polygon points="76,54.4 82.4,54.6 83.2,60 84.3,65 79.5,64.6 73.8,62.4 74,58" fill="#4242b2" stroke="#9a9ab0" stroke-width="0.45" stroke-linejoin="round"/>
<polygon points="57,58.8 62.3,57.5 63.1,59.9 67.5,62.1 70.8,62.9 70.3,68.6 66.7,69.1 62.1,68.6 60.1,65.5 57,61.4" fill="#7cb4d6" stroke="#9a9ab0" stroke-width="0.45" stroke-linejoin="round"/>
<polygon points="70.8,62.9 73.8,62.4 79.5,64.6 77.1,67.5 74.4,68.6 70.3,68.6" fill="#4242b2" stroke="#9a9ab0" stroke-width="0.45" stroke-linejoin="round"/>
<polygon points="66.7,69.1 70.3,68.6 74.4,68.6 74.9,72.4 73.1,75.2 71,77.7 69.9,73.1 67.4,70.2" fill="#6a9ad2" stroke="#9a9ab0" stroke-width="0.45" stroke-linejoin="round"/>
<polygon points="74.4,68.6 77.1,67.5 79.5,64.6 81,65.5 80.7,71.7 75.1,72.7 74.9,72.4" fill="#2c1b8a" stroke="#9a9ab0" stroke-width="0.45" stroke-linejoin="round"/>
<polygon points="79.5,64.6 84.3,65 86.6,65 89.4,67.6 83.2,70.7 80.7,71.7 81,65.5" fill="#2c1b8a" stroke="#9a9ab0" stroke-width="0.45" stroke-linejoin="round"/>
<polygon points="83.2,70.7 89.4,67.6 90.4,73.2 89.4,77.3 85.3,75.2 84.3,72.7" fill="#2c1b8a" stroke="#9a9ab0" stroke-width="0.45" stroke-linejoin="round"/>
<polygon points="90.4,64.8 95.1,65.3 99.2,65.8 103.2,66.2 106.8,66 105.3,67 101.2,69.1 100.2,71.1 98.7,71.8 95.8,73.5 93.6,71 92.5,66.5" fill="#2c1b8a" stroke="#9a9ab0" stroke-width="0.45" stroke-linejoin="round"/>
<polygon points="86.6,65 90.4,64.8 92.5,66.5 93.6,71 95.8,73.5 95.1,76.2 95.6,81.3 96.1,86.4 95.1,89.5 92,91 91,91.5 90,84 89.4,77.3 90.4,73.2 89.4,67.6" fill="#2c1b8a" stroke="#9a9ab0" stroke-width="0.45" stroke-linejoin="round"/>
<polygon points="100.2,71.1 104.3,72.6 106.3,72.1 110.4,69.1 115.5,66.5 116,67.5 115,70.6 113.4,74.2 110.9,75.7 108.3,77.2 106.8,78.8 104,77 100.5,74.5 98.7,71.8" fill="#2c1b8a" stroke="#9a9ab0" stroke-width="0.45" stroke-linejoin="round"/>
<polygon points="95.8,73.5 98.7,71.8 100.5,74.5 104,77 106.8,78.8 108.3,80.8 110.4,82.8 113.4,84.9 116.5,86.4 118.6,87.4 119.6,89 119.1,90.5 116.5,91 114,92.5 111.4,93.6 110.9,91.5 109.4,90 106.3,88.5 102.2,86.9 99.2,86.4 97.1,87.4 96.1,86.4 95.6,81.3 95.1,76.2" fill="#2c1b8a" stroke="#9a9ab0" stroke-width="0.45" stroke-linejoin="round"/>
<polygon points="80.7,71.7 83.2,70.7 84.3,72.7 85.3,75.2 89.4,77.3 90,84 91,91.5 86.7,90.9 86.7,84.5 84.6,82 81,78.8 76.7,75.2 75.1,72.7" fill="#2c1b8a" stroke="#9a9ab0" stroke-width="0.45" stroke-linejoin="round"/>
<polygon points="73.1,75.2 74.9,72.4 75.1,72.7 76.7,75.2 81,78.8 84.6,82 86.7,84.5 86.7,90.9 83.1,91.3 78.1,91.7 76,90.9 73.9,89.2 70.3,88.1 66.7,87 65.3,85.9 67.4,83.1 66.7,81.3 67.4,79.5 71,77.7" fill="#2c1b8a" stroke="#9a9ab0" stroke-width="0.45" stroke-linejoin="round"/>
<use href="#lao" fill="none" stroke="#a3aca8" stroke-width="0.6" stroke-linejoin="round"/>
</g>
<g transform="translate(426.8,231.9) scale(1,1)">
<use href="#lao" fill="#ecfff9"/>
<polygon points="47.2,0 63.6,0 60.5,4 58.5,8 55.4,10.1 50.8,12.1 50.8,8 47.8,7" fill="#e4fbee"/>
<polygon points="62,10.6 71.6,11.1 71.5,12.3 73,13.3 74.3,15.9 73.8,17.6 72.2,18.4 60.5,18.2 60.5,17.2" fill="#e4fbee"/>
<use href="#lal"/>
<polygon points="67.9,46.6 76,46.6 76,54.4 66.2,54.2" fill="#92dcd6" stroke="#9a9ab0" stroke-width="0.45" stroke-linejoin="round"/>
<polygon points="76,46.6 82.4,46.6 82.4,54.6 76,54.4" fill="#2c1b8a" stroke="#9a9ab0" stroke-width="0.45" stroke-linejoin="round"/>
<polygon points="82.4,46.6 88.9,46.6 89.6,50 90.6,53.7 90.6,60 90.4,64.8 86.6,65 84.3,65 83.2,60 82.4,54.6" fill="#4242b2" stroke="#9a9ab0" stroke-width="0.45" stroke-linejoin="round"/>
<polygon points="88.9,46.6 102.8,46.6 101.6,50 100.9,53.3 100.5,54.6 90.6,53.7 89.6,50" fill="#92dcd6" stroke="#9a9ab0" stroke-width="0.45" stroke-linejoin="round"/>
<polygon points="90.6,53.7 100.5,54.6 101.3,56.3 104,60.2 105.9,64 106.8,66 103.2,66.2 99.2,65.8 95.1,65.3 90.4,64.8 90.6,60" fill="#5b7fd0" stroke="#9a9ab0" stroke-width="0.45" stroke-linejoin="round"/>
<polygon points="66.2,54.2 76,54.4 74,58 73.8,62.4 70.8,62.9 67.5,62.1 67.5,57" fill="#92dcd6" stroke="#9a9ab0" stroke-width="0.45" stroke-linejoin="round"/>
<polygon points="76,54.4 82.4,54.6 83.2,60 84.3,65 79.5,64.6 73.8,62.4 74,58" fill="#5b7fd0" stroke="#9a9ab0" stroke-width="0.45" stroke-linejoin="round"/>
<polygon points="57,58.8 62.3,57.5 63.1,59.9 67.5,62.1 70.8,62.9 70.3,68.6 66.7,69.1 62.1,68.6 60.1,65.5 57,61.4" fill="#92dcd6" stroke="#9a9ab0" stroke-width="0.45" stroke-linejoin="round"/>
<polygon points="70.8,62.9 73.8,62.4 79.5,64.6 77.1,67.5 74.4,68.6 70.3,68.6" fill="#5b7fd0" stroke="#9a9ab0" stroke-width="0.45" stroke-linejoin="round"/>
<polygon points="66.7,69.1 70.3,68.6 74.4,68.6 74.9,72.4 73.1,75.2 71,77.7 69.9,73.1 67.4,70.2" fill="#7cb4d6" stroke="#9a9ab0" stroke-width="0.45" stroke-linejoin="round"/>
<polygon points="74.4,68.6 77.1,67.5 79.5,64.6 81,65.5 80.7,71.7 75.1,72.7 74.9,72.4" fill="#36289c" stroke="#9a9ab0" stroke-width="0.45" stroke-linejoin="round"/>
<polygon points="79.5,64.6 84.3,65 86.6,65 89.4,67.6 83.2,70.7 80.7,71.7 81,65.5" fill="#36289c" stroke="#9a9ab0" stroke-width="0.45" stroke-linejoin="round"/>
<polygon points="83.2,70.7 89.4,67.6 90.4,73.2 89.4,77.3 85.3,75.2 84.3,72.7" fill="#4242b2" stroke="#9a9ab0" stroke-width="0.45" stroke-linejoin="round"/>
<polygon points="90.4,64.8 95.1,65.3 99.2,65.8 103.2,66.2 106.8,66 105.3,67 101.2,69.1 100.2,71.1 98.7,71.8 95.8,73.5 93.6,71 92.5,66.5" fill="#4242b2" stroke="#9a9ab0" stroke-width="0.45" stroke-linejoin="round"/>
<polygon points="86.6,65 90.4,64.8 92.5,66.5 93.6,71 95.8,73.5 95.1,76.2 95.6,81.3 96.1,86.4 95.1,89.5 92,91 91,91.5 90,84 89.4,77.3 90.4,73.2 89.4,67.6" fill="#36289c" stroke="#9a9ab0" stroke-width="0.45" stroke-linejoin="round"/>
<polygon points="100.2,71.1 104.3,72.6 106.3,72.1 110.4,69.1 115.5,66.5 116,67.5 115,70.6 113.4,74.2 110.9,75.7 108.3,77.2 106.8,78.8 104,77 100.5,74.5 98.7,71.8" fill="#4242b2" stroke="#9a9ab0" stroke-width="0.45" stroke-linejoin="round"/>
<polygon points="95.8,73.5 98.7,71.8 100.5,74.5 104,77 106.8,78.8 108.3,80.8 110.4,82.8 113.4,84.9 116.5,86.4 118.6,87.4 119.6,89 119.1,90.5 116.5,91 114,92.5 111.4,93.6 110.9,91.5 109.4,90 106.3,88.5 102.2,86.9 99.2,86.4 97.1,87.4 96.1,86.4 95.6,81.3 95.1,76.2" fill="#36289c" stroke="#9a9ab0" stroke-width="0.45" stroke-linejoin="round"/>
<polygon points="80.7,71.7 83.2,70.7 84.3,72.7 85.3,75.2 89.4,77.3 90,84 91,91.5 86.7,90.9 86.7,84.5 84.6,82 81,78.8 76.7,75.2 75.1,72.7" fill="#36289c" stroke="#9a9ab0" stroke-width="0.45" stroke-linejoin="round"/>
<polygon points="73.1,75.2 74.9,72.4 75.1,72.7 76.7,75.2 81,78.8 84.6,82 86.7,84.5 86.7,90.9 83.1,91.3 78.1,91.7 76,90.9 73.9,89.2 70.3,88.1 66.7,87 65.3,85.9 67.4,83.1 66.7,81.3 67.4,79.5 71,77.7" fill="#36289c" stroke="#9a9ab0" stroke-width="0.45" stroke-linejoin="round"/>
<use href="#lao" fill="none" stroke="#a3aca8" stroke-width="0.6" stroke-linejoin="round"/>
</g>
<g transform="translate(565.3,232.2) scale(0.985,1.02)">
<use href="#lao" fill="#ecfff9"/>
<polygon points="62,10.6 71.6,11.1 71.5,12.3 73,13.3 74.3,15.9 73.8,17.6 72.2,18.4 60.5,18.2 60.5,17.2" fill="#e4fbee"/>
<use href="#lal"/>
<polygon points="67.9,46.6 76,46.6 76,54.4 66.2,54.2" fill="#c6f6e6" stroke="#9a9ab0" stroke-width="0.45" stroke-linejoin="round"/>
<polygon points="76,46.6 82.4,46.6 82.4,54.6 76,54.4" fill="#2c1b8a" stroke="#9a9ab0" stroke-width="0.45" stroke-linejoin="round"/>
<polygon points="82.4,46.6 88.9,46.6 89.6,50 90.6,53.7 90.6,60 90.4,64.8 86.6,65 84.3,65 83.2,60 82.4,54.6" fill="#5b7fd0" stroke="#9a9ab0" stroke-width="0.45" stroke-linejoin="round"/>
<polygon points="88.9,46.6 102.8,46.6 101.6,50 100.9,53.3 100.5,54.6 90.6,53.7 89.6,50" fill="#c6f6e6" stroke="#9a9ab0" stroke-width="0.45" stroke-linejoin="round"/>
<polygon points="90.6,53.7 100.5,54.6 101.3,56.3 104,60.2 105.9,64 106.8,66 103.2,66.2 99.2,65.8 95.1,65.3 90.4,64.8 90.6,60" fill="#92dcd6" stroke="#9a9ab0" stroke-width="0.45" stroke-linejoin="round"/>
<polygon points="66.2,54.2 76,54.4 74,58 73.8,62.4 70.8,62.9 67.5,62.1 67.5,57" fill="#c6f6e6" stroke="#9a9ab0" stroke-width="0.45" stroke-linejoin="round"/>
<polygon points="76,54.4 82.4,54.6 83.2,60 84.3,65 79.5,64.6 73.8,62.4 74,58" fill="#92dcd6" stroke="#9a9ab0" stroke-width="0.45" stroke-linejoin="round"/>
<polygon points="57,58.8 62.3,57.5 63.1,59.9 67.5,62.1 70.8,62.9 70.3,68.6 66.7,69.1 62.1,68.6 60.1,65.5 57,61.4" fill="#ace8dc" stroke="#9a9ab0" stroke-width="0.45" stroke-linejoin="round"/>
<polygon points="70.8,62.9 73.8,62.4 79.5,64.6 77.1,67.5 74.4,68.6 70.3,68.6" fill="#92dcd6" stroke="#9a9ab0" stroke-width="0.45" stroke-linejoin="round"/>
<polygon points="66.7,69.1 70.3,68.6 74.4,68.6 74.9,72.4 73.1,75.2 71,77.7 69.9,73.1 67.4,70.2" fill="#92dcd6" stroke="#9a9ab0" stroke-width="0.45" stroke-linejoin="round"/>
<polygon points="74.4,68.6 77.1,67.5 79.5,64.6 81,65.5 80.7,71.7 75.1,72.7 74.9,72.4" fill="#4242b2" stroke="#9a9ab0" stroke-width="0.45" stroke-linejoin="round"/>
<polygon points="79.5,64.6 84.3,65 86.6,65 89.4,67.6 83.2,70.7 80.7,71.7 81,65.5" fill="#4242b2" stroke="#9a9ab0" stroke-width="0.45" stroke-linejoin="round"/>
<polygon points="83.2,70.7 89.4,67.6 90.4,73.2 89.4,77.3 85.3,75.2 84.3,72.7" fill="#5b7fd0" stroke="#9a9ab0" stroke-width="0.45" stroke-linejoin="round"/>
<polygon points="90.4,64.8 95.1,65.3 99.2,65.8 103.2,66.2 106.8,66 105.3,67 101.2,69.1 100.2,71.1 98.7,71.8 95.8,73.5 93.6,71 92.5,66.5" fill="#5b7fd0" stroke="#9a9ab0" stroke-width="0.45" stroke-linejoin="round"/>
<polygon points="86.6,65 90.4,64.8 92.5,66.5 93.6,71 95.8,73.5 95.1,76.2 95.6,81.3 96.1,86.4 95.1,89.5 92,91 91,91.5 90,84 89.4,77.3 90.4,73.2 89.4,67.6" fill="#5b7fd0" stroke="#9a9ab0" stroke-width="0.45" stroke-linejoin="round"/>
<polygon points="100.2,71.1 104.3,72.6 106.3,72.1 110.4,69.1 115.5,66.5 116,67.5 115,70.6 113.4,74.2 110.9,75.7 108.3,77.2 106.8,78.8 104,77 100.5,74.5 98.7,71.8" fill="#6a9ad2" stroke="#9a9ab0" stroke-width="0.45" stroke-linejoin="round"/>
<polygon points="95.8,73.5 98.7,71.8 100.5,74.5 104,77 106.8,78.8 108.3,80.8 110.4,82.8 113.4,84.9 116.5,86.4 118.6,87.4 119.6,89 119.1,90.5 116.5,91 114,92.5 111.4,93.6 110.9,91.5 109.4,90 106.3,88.5 102.2,86.9 99.2,86.4 97.1,87.4 96.1,86.4 95.6,81.3 95.1,76.2" fill="#4242b2" stroke="#9a9ab0" stroke-width="0.45" stroke-linejoin="round"/>
<polygon points="80.7,71.7 83.2,70.7 84.3,72.7 85.3,75.2 89.4,77.3 90,84 91,91.5 86.7,90.9 86.7,84.5 84.6,82 81,78.8 76.7,75.2 75.1,72.7" fill="#4242b2" stroke="#9a9ab0" stroke-width="0.45" stroke-linejoin="round"/>
<polygon points="73.1,75.2 74.9,72.4 75.1,72.7 76.7,75.2 81,78.8 84.6,82 86.7,84.5 86.7,90.9 83.1,91.3 78.1,91.7 76,90.9 73.9,89.2 70.3,88.1 66.7,87 65.3,85.9 67.4,83.1 66.7,81.3 67.4,79.5 71,77.7" fill="#4242b2" stroke="#9a9ab0" stroke-width="0.45" stroke-linejoin="round"/>
<use href="#lao" fill="none" stroke="#a3aca8" stroke-width="0.6" stroke-linejoin="round"/>
</g>
</svg>
</body></html>
